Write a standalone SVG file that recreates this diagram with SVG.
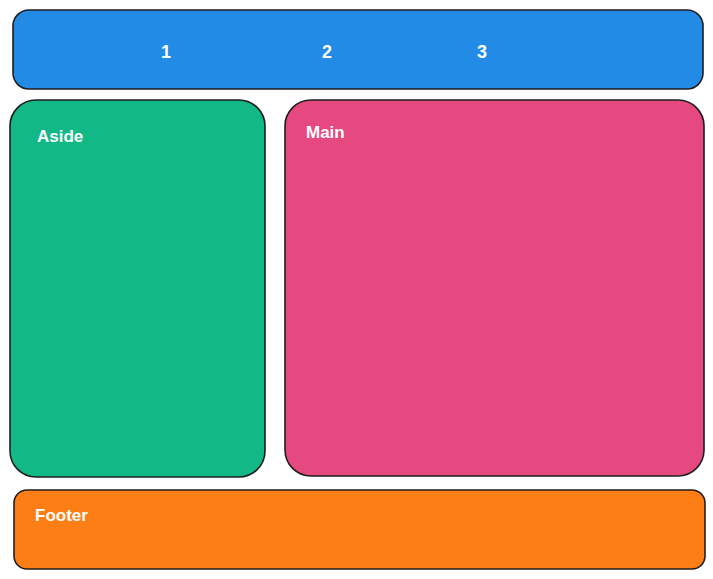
<svg xmlns="http://www.w3.org/2000/svg" width="713" height="579" viewBox="0 0 713 579">
<style>
.box{stroke:#1e1e1e;stroke-width:1.6}
.lbl{fill:#ffffff;font-family:"Liberation Sans",Arial,sans-serif;font-size:17px;font-weight:bold}
.num{fill:#ffffff;font-family:"Liberation Sans",Arial,sans-serif;font-size:18px;font-weight:bold;text-anchor:middle}
</style>
<rect width="713" height="579" fill="#ffffff"/>
<g id="header">
<rect class="box" x="13" y="10" width="690" height="79" rx="16" fill="#228be6"/>
<text class="num" x="166" y="58">1</text>
<text class="num" x="327" y="58">2</text>
<text class="num" x="482" y="58">3</text>
</g>
<g id="aside">
<rect class="box" x="10" y="100" width="255" height="377" rx="26" fill="#12b886"/>
<text class="lbl" x="37" y="142">Aside</text>
</g>
<g id="main">
<rect class="box" x="285" y="100" width="419" height="376" rx="26" fill="#e64980"/>
<text class="lbl" x="306" y="138">Main</text>
</g>
<g id="footer">
<rect class="box" x="14" y="490" width="691" height="79" rx="13" fill="#fd7e14"/>
<text class="lbl" x="35" y="521">Footer</text>
</g>
<g id="connectors"></g>
</svg>
